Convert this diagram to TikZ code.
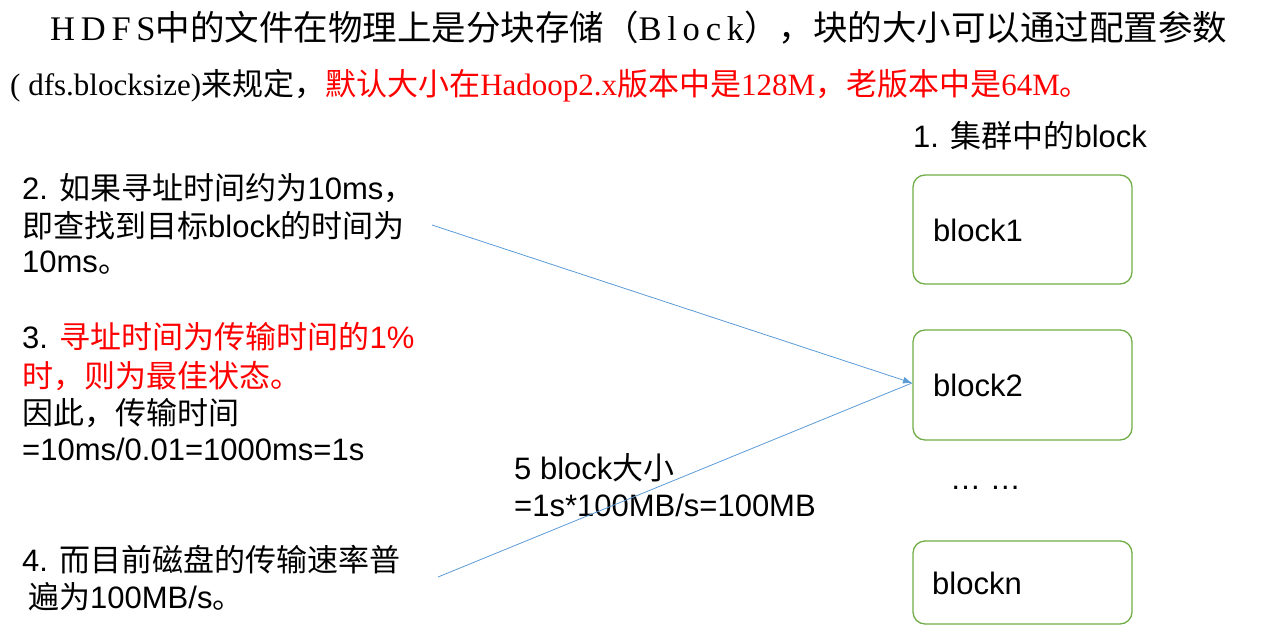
\documentclass[tikz,border=0pt]{standalone}
\usepackage{fontspec}
\usetikzlibrary{arrows.meta}
\setmainfont{Liberation Sans}
\newfontfamily\cjk{Noto Sans CJK SC}
\newfontfamily\tms{Liberation Serif}
\newcommand\C[1]{{\cjk #1}}
\begin{document}
\begin{tikzpicture}[x=1pt,y=-1pt,
  txt/.style={anchor=west,inner sep=0pt,font=\fontsize{31}{34}\selectfont},
  blk/.style={draw=blkgreen,line width=1.3pt,rounded corners=12pt},
  lnk/.style={draw=lnkblue,line width=0.8pt}]
\definecolor{blkgreen}{HTML}{70AD47}
\definecolor{lnkblue}{HTML}{5B9BD5}
\definecolor{redt}{HTML}{FF0000}
\useasboundingbox (0,0) rectangle (1266,631);
% title
\node[txt,font=\fontsize{34.5}{38}\selectfont] (t1) at (50,28) {\tms H\,D\,F\,S\C{中的文件在物理上是分块存储（}B\,l\,o\,c\,k\C{），块的大小可以通过配置参数}};
\node[txt,font=\fontsize{31}{34}\selectfont] (t2) at (10,86) {\tms ( dfs.blocksize)\C{来规定，}\color{redt}\C{默认大小在}Hadoop2.x\C{版本中是}128M\C{，老版本中是}64M\C{。}};
% boxes
\node[txt] (h1) at (913,136) {1. \C{集群中的}block};
\draw[blk] (913,175) rectangle (1132,284);
\node[txt] (b1) at (933,230) {block1};
\draw[blk] (913,330) rectangle (1132,440);
\node[txt] (b2) at (933,385) {block2};
\coordinate (tip) at (912,383);
\node[txt] (dots) at (950,488) {…\ …};
\draw[blk] (913,541) rectangle (1132,624);
\node[txt] (bn) at (932,583) {blockn};
% left text
\node[txt] (a1) at (22,188) {2. \C{如果寻址时间约为}10ms\C{，}};
\node[txt] (a2) at (22,226) {\C{即查找到目标}block\C{的时间为}};
\node[txt] (a3) at (22,263) {10ms\C{。}};
\node[txt,text=redt] (c1) at (22,337) {\color{black}3. \color{redt}\C{寻址时间为传输时间的}1\%};
\node[txt,text=redt] (c2) at (22,376) {\C{时，则为最佳状态。}};
\node[txt] (c3) at (22,413) {\C{因此，传输时间}};
\node[txt] (c4) at (22,449) {=10ms/0.01=1000ms=1s};
\node[txt] (d1) at (22,560) {4. \C{而目前磁盘的传输速率普}};
\node[txt] (d2) at (28,597) {\C{遍为}100MB/s\C{。}};
\node[txt] (e1) at (514,468) {5 block\C{大小}};
\node[txt] (e2) at (514,505) {=1s*100MB/s=100MB};
\coordinate (s1) at (432,225);
\coordinate (s2) at (438,577);
\draw[lnk,-{Latex[length=9pt,width=7pt]}] (s1) -- (tip);
\draw[lnk] (s2) -- (tip);
\end{tikzpicture}
\end{document}
